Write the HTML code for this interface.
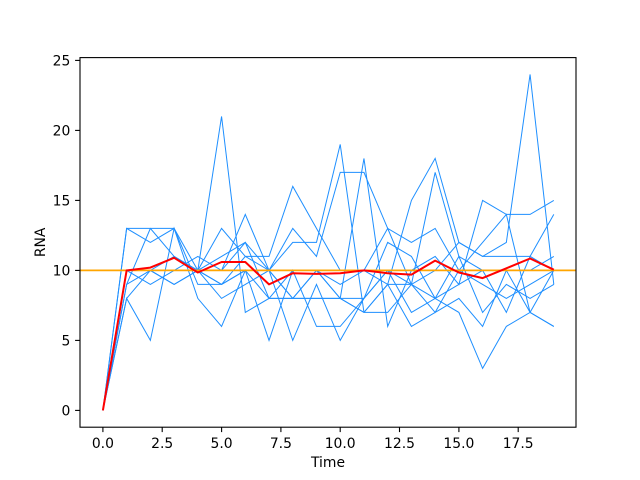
<!DOCTYPE html>
<html>
<head>
<meta charset="utf-8">
<style>
  html, body { margin: 0; padding: 0; background: #ffffff; }
  svg { display: block; }
  text { font-family: "DejaVu Sans", "Liberation Sans", sans-serif; font-size: 13.9px; fill: #000; }
</style>
</head>
<body>
<svg width="640" height="480" viewBox="0 0 640 480" xmlns="http://www.w3.org/2000/svg">
  <rect x="0" y="0" width="640" height="480" fill="#ffffff"/>
  <defs>
    <clipPath id="ax"><rect x="80" y="57.6" width="496" height="369.6"/></clipPath>
  </defs>
  <g clip-path="url(#ax)">
    <g transform="translate(102.9,410.4) scale(23.732,-14)" fill="none" stroke="#1e8fff" stroke-width="1" stroke-linejoin="miter">
      <polyline vector-effect="non-scaling-stroke" points="0,0 1,9 2,13 3,13 4,10 5,21 6,7 7,8 8,8 9,8 10,8 11,18 12,6 13,10 14,11 15,9 16,15 17,14 18,14 19,15"/>
      <polyline vector-effect="non-scaling-stroke" points="0,0 1,13 2,12 3,13 4,9 5,9 6,11 7,11 8,16 9,13 10,10 11,10 12,9 13,15 14,18 15,12 16,11 17,12 18,24 19,9"/>
      <polyline vector-effect="non-scaling-stroke" points="0,0 1,13 2,13 3,11 4,10 5,13 6,11 7,10 8,12 9,12 10,19 11,7 12,7 13,9 14,17 15,11 16,10 17,7 18,11 19,10"/>
      <polyline vector-effect="non-scaling-stroke" points="0,0 1,10 2,10 3,10 4,10 5,10 6,14 7,10 8,13 9,11 10,17 11,17 12,13 13,12 14,13 15,10 16,12 17,14 18,7 19,6"/>
      <polyline vector-effect="non-scaling-stroke" points="0,0 1,8 2,5 3,13 4,8 5,6 6,10 7,5 8,10 9,6 10,6 11,8 12,10 13,7 14,8 15,7 16,3 17,6 18,7 19,10"/>
      <polyline vector-effect="non-scaling-stroke" points="0,0 1,10 2,10 3,9 4,10 5,11 6,12 7,8 8,10 9,10 10,9 11,10 12,13 13,9 14,10 15,12 16,11 17,11 18,11 19,14"/>
      <polyline vector-effect="non-scaling-stroke" points="0,0 1,10 2,10 3,11 4,10 5,9 6,10 7,10 8,8 9,10 10,8 11,8 12,12 13,11 14,8 15,9 16,10 17,10 18,10 19,11"/>
      <polyline vector-effect="non-scaling-stroke" points="0,0 1,10 2,9 3,10 4,11 5,10 6,12 7,10 8,5 9,9 10,5 11,8 12,10 13,9 14,7 15,10 16,9 17,8 18,9 19,10"/>
      <polyline vector-effect="non-scaling-stroke" points="0,0 1,9 2,10 3,10 4,10 5,9 6,10 7,8 8,8 9,10 10,8 11,7 12,9 13,9 14,8 15,11 16,7 17,9 18,8 19,9"/>
      <polyline vector-effect="non-scaling-stroke" points="0,0 1,8 2,10 3,9 4,10 5,8 6,9 7,10 8,8 9,8 10,8 11,7 12,9 13,6 14,7 15,8 16,6 17,10 18,7 19,6"/>
    </g>
    <!-- orange reference line at 10 -->
    <line x1="80" y1="270.4" x2="576" y2="270.4" stroke="#ffa500" stroke-width="1.8"/>
    <!-- red mean line -->
    <g transform="translate(102.9,410.4) scale(23.732,-14)" fill="none" stroke="#ff0000" stroke-width="2" stroke-linejoin="round">
      <polyline vector-effect="non-scaling-stroke" points="0,0 1,10.0 2,10.2 3,10.9 4,9.85 5,10.6 6,10.6 7,9.0 8,9.8 9,9.75 10,9.8 11,10.0 12,9.8 13,9.7 14,10.7 15,9.85 16,9.45 17,10.15 18,10.85 19,10.05"/>
    </g>
  </g>

  <!-- axes frame -->
  <rect x="80" y="57.6" width="496" height="369.6" fill="none" stroke="#000" stroke-width="1.1"/>

  <!-- x ticks -->
  <g stroke="#000" stroke-width="1.1">
    <line x1="102.9" y1="427.2" x2="102.9" y2="432.1"/>
    <line x1="162.2" y1="427.2" x2="162.2" y2="432.1"/>
    <line x1="221.6" y1="427.2" x2="221.6" y2="432.1"/>
    <line x1="280.9" y1="427.2" x2="280.9" y2="432.1"/>
    <line x1="340.2" y1="427.2" x2="340.2" y2="432.1"/>
    <line x1="399.5" y1="427.2" x2="399.5" y2="432.1"/>
    <line x1="458.9" y1="427.2" x2="458.9" y2="432.1"/>
    <line x1="518.2" y1="427.2" x2="518.2" y2="432.1"/>
  </g>
  <g text-anchor="middle">
    <text x="102.9" y="448">0.0</text>
    <text x="162.2" y="448">2.5</text>
    <text x="221.6" y="448">5.0</text>
    <text x="280.9" y="448">7.5</text>
    <text x="340.2" y="448">10.0</text>
    <text x="399.5" y="448">12.5</text>
    <text x="458.9" y="448">15.0</text>
    <text x="518.2" y="448">17.5</text>
  </g>

  <!-- y ticks -->
  <g stroke="#000" stroke-width="1.1">
    <line x1="75.1" y1="410.4" x2="80" y2="410.4"/>
    <line x1="75.1" y1="340.4" x2="80" y2="340.4"/>
    <line x1="75.1" y1="270.4" x2="80" y2="270.4"/>
    <line x1="75.1" y1="200.4" x2="80" y2="200.4"/>
    <line x1="75.1" y1="130.4" x2="80" y2="130.4"/>
    <line x1="75.1" y1="60.4" x2="80" y2="60.4"/>
  </g>
  <g text-anchor="end">
    <text x="70.3" y="415.5">0</text>
    <text x="70.3" y="345.5">5</text>
    <text x="70.3" y="275.5">10</text>
    <text x="70.3" y="205.5">15</text>
    <text x="70.3" y="135.5">20</text>
    <text x="70.3" y="65.5">25</text>
  </g>

  <!-- axis labels -->
  <text x="328" y="467" text-anchor="middle">Time</text>
  <text x="0" y="0" text-anchor="middle" transform="translate(45,242.4) rotate(-90)">RNA</text>
</svg>
</body>
</html>
